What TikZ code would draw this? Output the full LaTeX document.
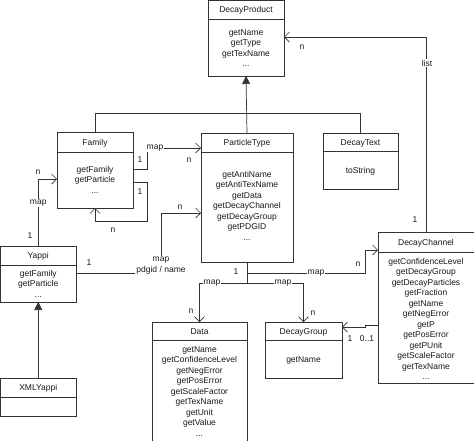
\documentclass[tikz,border=0pt]{standalone}
\usepackage{fontspec}
\setmainfont{Liberation Sans}
\usetikzlibrary{arrows.meta}
\tikzset{
 ln/.style={draw=black!80, line width=0.7pt},
 txt/.style={font=\fontsize{8.5}{10.5}\selectfont, text=black!90, inner sep=0pt},
 lbl/.style={txt, fill=white, inner sep=1pt},
 inh/.style={ln, -{Triangle[length=8pt,width=8pt]}},
 assoc/.style={ln, -{Straight Barb[length=5pt,width=10pt]}},
 classrect/.style={ln, rectangle, inner sep=0pt, outer sep=0pt, fill=white},
}
\newcommand\tdots{...}
\newcommand\umlclass[9]{%
 \node[classrect, anchor=north west, minimum width={(#5-#2)*1pt}, minimum height={(#6-#3)*1pt}] (#1) at (#2,#3) {};
 \draw[ln] (#2,#4) -- (#5,#4);
 \node[txt, anchor=base] (#1-title) at ({(#2+#5)/2},{(#3+#4)/2+3}) {#7};
 \foreach \l [count=\i] in {#9} {\node[txt, anchor=base] (#1-line\i) at ({(#2+#5)/2},{#8+(\i-1)*10.5+3}) {\l};}
}
\begin{document}
\begin{tikzpicture}[x=1pt,y=-1pt]
\useasboundingbox (0,0) rectangle (474,440);
\clip (0,0) rectangle (474,440);
\fill[white] (0,0) rectangle (474,440);

% classes
\umlclass{dp}{208}{0.5}{19}{284}{76}{DecayProduct}{32}{getName,getType,getTexName,\tdots}
\umlclass{fam}{57}{132}{152}{133}{208}{Family}{169}{getFamily,getParticle,\tdots}
\umlclass{pt}{201}{133}{152}{293}{262}{ParticleType}{174}{getAntiName,getAntiTexName,getData,getDecayChannel,getDecayGroup,getPDGID,\tdots}
\umlclass{dtx}{323}{133}{151}{398}{189}{DecayText}{170}{toString}
\umlclass{yap}{0.5}{246}{265}{76}{302}{Yappi}{273}{getFamily,getParticle,\tdots}
\umlclass{xml}{0.5}{378}{397}{76}{416}{XMLYappi}{500}{ }
\umlclass{dch}{378}{232}{252}{474}{383}{DecayChannel}{261}{getConfidenceLevel,getDecayGroup,getDecayParticles,getFraction,getName,getNegError,getP,getPosError,getPUnit,getScaleFactor,getTexName,\tdots}
\umlclass{dat}{152}{322}{340}{247}{446}{Data}{349}{getName,getConfidenceLevel,getNegError,getPosError,getScaleFactor,getTexName,getUnit,getValue,\tdots}
\umlclass{dgr}{265}{322}{340}{342}{378}{DecayGroup}{359}{getName}

% inheritance
\coordinate (hub) at (247,113);
\draw[ln] (fam.north) -- (fam.north |- hub) -- (dtx.north |- hub) -- (dtx.north);
\draw[inh] (pt.north) -- (dp.south);
\draw[inh] (xml.north) -- (yap.south);

% list
\coordinate (lc) at (426,37);
\draw[assoc] (dch.north) -- (lc) -- (dp.east |- lc);

% Family -> ParticleType
\coordinate (f1) at (147,169);
\coordinate (f2) at (147,148);
\draw[assoc] (fam.east |- f1) -- (f1) -- (f2) -- (pt.west |- f2);

% Family self loop
\coordinate (s1) at (147,182);
\coordinate (s2) at (147,221);
\draw[assoc] (fam.east |- s1) -- (s1) -- (s2) -- (fam.south |- s2) -- (fam.south);

% Yappi -> Family
\coordinate (y1) at (38.25,179);
\draw[assoc] (yap.north) -- (y1) -- (fam.west |- y1);

% Yappi -> ParticleType
\coordinate (p1) at (161,273);
\coordinate (p2) at (161,213);
\draw[assoc] (yap.east |- p1) -- (p1) -- (p2) -- (pt.west |- p2);

% ParticleType bottom tree
\coordinate (b1) at (247,283);
\coordinate (b2) at (247,273);
\coordinate (b3) at (365,273);
\coordinate (b4) at (365,250);
\draw[ln] (pt.south) -- (b1);
\draw[assoc] (b2) -- (b3) -- (b4) -- (dch.west |- b4);
\coordinate (d1) at (199.5,283);
\coordinate (d2) at (303.5,283);
\draw[ln] (d1) -- (d2);
\draw[assoc] (d1) -- (dat.north);
\draw[assoc] (d2) -- (dgr.north);

% DecayChannel -> DecayGroup
\coordinate (g1) at (365,325);
\coordinate (g2) at (365,327);
\draw[assoc] (dch.west |- g1) -- (g1) -- (g2) -- (dgr.east |- g2);

% labels
\node[lbl] (l-list) at (427,63) {list};
\node[txt] (l-n1) at (302,47) {n};
\node[txt] (l-1a) at (415,220) {1};
\node[lbl] (l-map1) at (155,148) {map};
\node[txt] (l-1b) at (140,160) {1};
\node[txt] (l-n2) at (189,160) {n};
\node[txt] (l-1c) at (140,192) {1};
\node[txt] (l-n3) at (113,230) {n};
\node[lbl] (l-map2) at (38.25,203) {map};
\node[txt] (l-n4) at (38,172) {n};
\node[txt] (l-1d) at (30,236) {1};
\node[lbl, align=center] (l-map3) at (161,265.5) {map\\pdgid / name};
\node[txt] (l-1e) at (89,263) {1};
\node[txt] (l-n5) at (180,207) {n};
\node[txt] (l-1f) at (236,272) {1};
\node[lbl] (l-map4) at (316,273) {map};
\node[txt] (l-n6) at (358,264) {n};
\node[lbl] (l-map5) at (212,283) {map};
\node[lbl] (l-map6) at (283,283) {map};
\node[txt] (l-n7) at (191,311) {n};
\node[txt] (l-n8) at (313,313) {n};
\node[txt] (l-1g) at (350,339) {1};
\node[txt] (l-01) at (367,339) {0..1};
\end{tikzpicture}
\end{document}
